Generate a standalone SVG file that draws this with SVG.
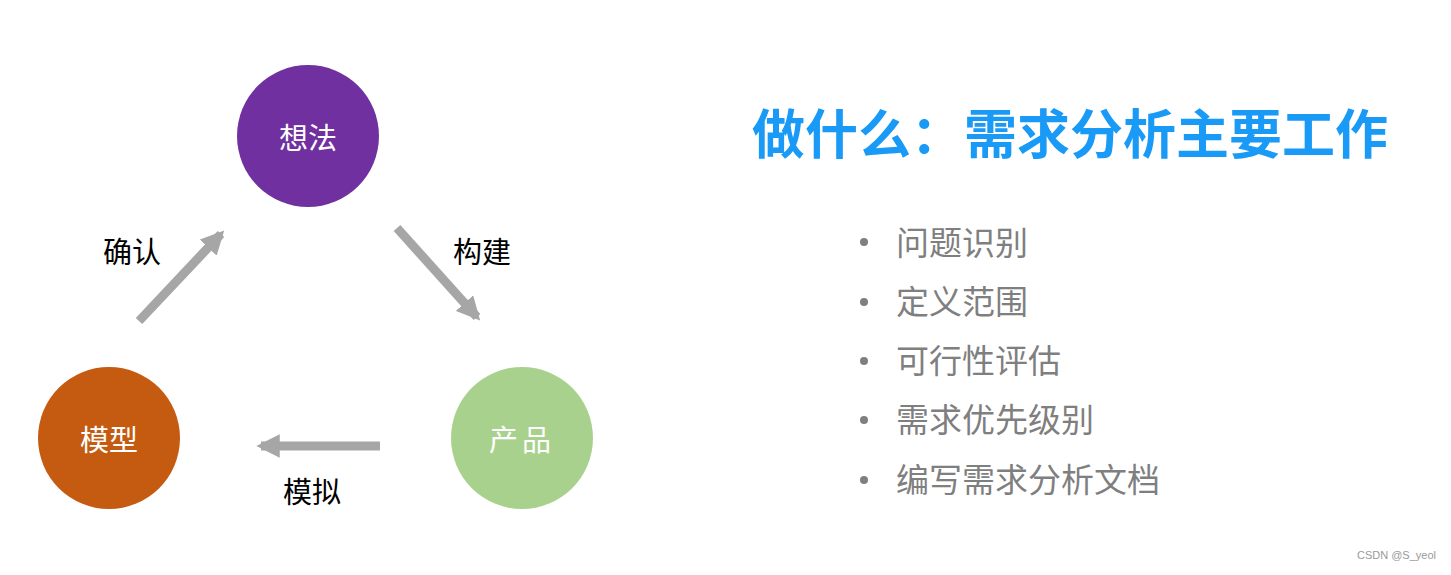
<svg xmlns="http://www.w3.org/2000/svg" width="1451" height="575" viewBox="0 0 1451 575">
<style>
.node-label{font-family:"Noto Sans CJK SC","Liberation Sans",sans-serif;font-size:29px;fill:#fff;text-anchor:middle;dominant-baseline:central}
.edge-label{font-family:"Noto Sans CJK SC","Liberation Sans",sans-serif;font-size:29px;fill:#000;text-anchor:middle;dominant-baseline:central}
.arrow{stroke:#A6A6A6;stroke-width:9;fill:none}
.bullet{font-family:"Noto Sans CJK SC","Liberation Sans",sans-serif;font-size:33px;fill:#7F7F7F;dominant-baseline:central}
.dot{fill:#7F7F7F}
</style>
<defs>
<marker id="ah" viewBox="0 0 10 10" refX="8" refY="5" markerWidth="2.6" markerHeight="2.6" orient="auto" markerUnits="strokeWidth">
<path d="M0,0 L10,5 L0,10 z" fill="#A6A6A6"/>
</marker>
</defs>
<rect width="1451" height="575" fill="#fff"/>
<g id="connectors">
<line class="arrow" x1="139" y1="321" x2="221" y2="234" marker-end="url(#ah)"/>
<line class="arrow" x1="397" y1="228" x2="477" y2="317" marker-end="url(#ah)"/>
<line class="arrow" x1="380" y1="446" x2="261" y2="446" marker-end="url(#ah)"/>
<text class="edge-label" x="132" y="250">确认</text>
<text class="edge-label" x="482" y="250">构建</text>
<text class="edge-label" x="312" y="490">模拟</text>
</g>
<g id="node-idea">
<circle cx="308" cy="136" r="71" fill="#7030A0"/>
<text class="node-label" x="308" y="136">想法</text>
</g>
<g id="node-model">
<circle cx="109" cy="438" r="71" fill="#C55A11"/>
<text class="node-label" x="109" y="438">模型</text>
</g>
<g id="node-product">
<circle cx="522" cy="438" r="71" fill="#A9D18E"/>
<text class="node-label" x="522" y="438" letter-spacing="4">产品</text>
</g>
<g id="title">
<text x="752" y="131" font-family="Noto Sans CJK SC,Liberation Sans,sans-serif" font-size="53" font-weight="bold" fill="#1A9AF7" dominant-baseline="central">做什么：需求分析主要工作</text>
</g>
<g id="bullets">
<circle class="dot" cx="864" cy="242" r="4"/>
<text class="bullet" x="896" y="241">问题识别</text>
<circle class="dot" cx="864" cy="302" r="4"/>
<text class="bullet" x="896" y="300">定义范围</text>
<circle class="dot" cx="864" cy="361" r="4"/>
<text class="bullet" x="896" y="359">可行性评估</text>
<circle class="dot" cx="864" cy="420" r="4"/>
<text class="bullet" x="896" y="418">需求优先级别</text>
<circle class="dot" cx="864" cy="480" r="4"/>
<text class="bullet" x="896" y="478">编写需求分析文档</text>
</g>
<text x="1436" y="559" font-family="Liberation Sans,sans-serif" font-size="11" fill="#999" text-anchor="end">CSDN @S_yeol</text>
</svg>
